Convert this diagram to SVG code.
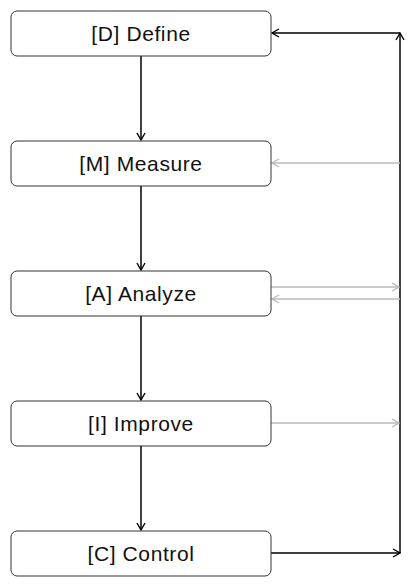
<svg xmlns="http://www.w3.org/2000/svg" width="412" height="586" viewBox="0 0 412 586">
<style>
.box{fill:#fff;stroke:#333;stroke-width:1}
.lbl{font-family:"Liberation Sans",Arial,sans-serif;font-size:21px;letter-spacing:0.6px;fill:#111;text-anchor:middle}
.k{stroke:#000;stroke-width:1.5;fill:none}
.g{stroke:#bbb;stroke-width:1.5;fill:none}
</style>
<defs>
<marker id="ak" viewBox="0 0 10 10" refX="9" refY="5" markerWidth="10" markerHeight="10" markerUnits="userSpaceOnUse" orient="auto"><path d="M2,1 L9,5 L2,9" fill="none" stroke="#000" stroke-width="1.4"/></marker>
<marker id="ag" viewBox="0 0 10 10" refX="9" refY="5" markerWidth="10" markerHeight="10" markerUnits="userSpaceOnUse" orient="auto"><path d="M2,1 L9,5 L2,9" fill="none" stroke="#bbb" stroke-width="1.4"/></marker>
</defs>
<g id="connectors">
<path class="k" d="M141,56 V140" marker-end="url(#ak)"/>
<path class="k" d="M141,186 V270" marker-end="url(#ak)"/>
<path class="k" d="M141,316 V400" marker-end="url(#ak)"/>
<path class="k" d="M141,446 V530" marker-end="url(#ak)"/>
<path class="k" d="M271,553 H400" marker-end="url(#ak)"/>
<path class="k" d="M400,553 V33" marker-end="url(#ak)"/>
<path class="k" d="M400,33 H272" marker-end="url(#ak)"/>
<path class="g" d="M400,163 H272" marker-end="url(#ag)"/>
<path class="g" d="M271,287 H399" marker-end="url(#ag)"/>
<path class="g" d="M400,299 H272" marker-end="url(#ag)"/>
<path class="g" d="M271,423 H399" marker-end="url(#ag)"/>
</g>
<g id="define"><rect class="box" x="11" y="11" width="260" height="45" rx="6"/><text class="lbl" x="141" y="40.5">[D] Define</text></g>
<g id="measure"><rect class="box" x="11" y="141" width="260" height="45" rx="6"/><text class="lbl" x="141" y="170.5">[M] Measure</text></g>
<g id="analyze"><rect class="box" x="11" y="271" width="260" height="45" rx="6"/><text class="lbl" x="141" y="300.5">[A] Analyze</text></g>
<g id="improve"><rect class="box" x="11" y="401" width="260" height="45" rx="6"/><text class="lbl" x="141" y="430.5">[I] Improve</text></g>
<g id="control"><rect class="box" x="11" y="531" width="260" height="45" rx="6"/><text class="lbl" x="141" y="560.5">[C] Control</text></g>
</svg>
